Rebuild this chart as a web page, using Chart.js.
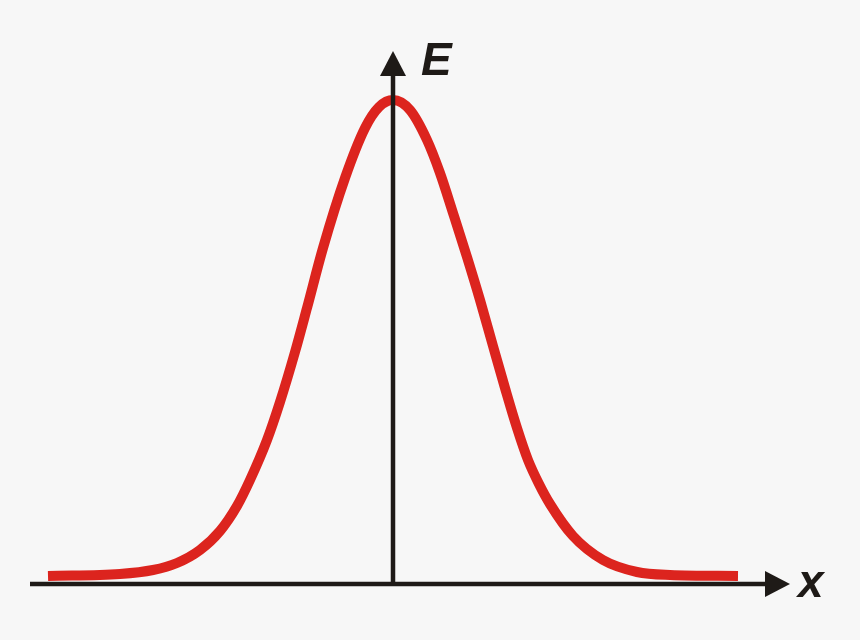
<!DOCTYPE html>
<html>
<head>
<meta charset="utf-8">
<title>E(x)</title>
<script src="https://cdn.jsdelivr.net/npm/chart.js@4/dist/chart.umd.min.js"></script>
<style>
  html, body { margin: 0; padding: 0; background: #f7f7f7; }
  #wrap { width: 860px; height: 640px; }
</style>
</head>
<body>
<div id="wrap"><canvas id="curveChart"></canvas></div>
<script>
// values (x in arbitrary units, E above the x axis)
const xValues = [-3.45, -2.73, -2.40, -2.16, -1.93, -1.73, -1.56, -1.43, -1.26, -1.13, -0.98, -0.86, -0.70, -0.48, -0.28, -0.14, 0,
                 0.17, 0.34, 0.47, 0.60, 0.74, 0.87, 1.00, 1.12, 1.24, 1.35, 1.46, 1.57, 1.80, 2.10, 2.44, 2.77, 3.45];
const eValues = [0.08, 0.10, 0.14, 0.21, 0.34, 0.53, 0.78, 1.04, 1.44, 1.82, 2.32, 2.76, 3.36, 4.06, 4.56, 4.77, 4.84,
                 4.74, 4.44, 4.11, 3.71, 3.27, 2.84, 2.38, 1.96, 1.56, 1.24, 1.00, 0.80, 0.48, 0.24, 0.12, 0.09, 0.08];
const xAxisLabel = 'x';
const yAxisLabel = 'E';

const axisColor = '#1e1a17';

// axes with arrowheads, drawn on top of the curve like in the picture
const arrowAxes = {
    id: 'arrowAxes',
    afterDatasetsDraw(chart) {
        const ctx = chart.ctx;
        const xs = chart.scales.x, ys = chart.scales.y;
        const x0 = xs.getPixelForValue(0);
        const y0 = ys.getPixelForValue(0);
        const left = xs.getPixelForValue(xs.min);
        const right = xs.getPixelForValue(xs.max);
        const top = ys.getPixelForValue(ys.max);
        const head = 25, half = 13;

        ctx.save();
        ctx.strokeStyle = axisColor;
        ctx.fillStyle = axisColor;
        ctx.lineWidth = 4.5;

        ctx.beginPath();
        ctx.moveTo(left, y0);
        ctx.lineTo(right - head + 2, y0);
        ctx.moveTo(x0, y0 + 2);
        ctx.lineTo(x0, top + head - 2);
        ctx.stroke();

        ctx.beginPath();
        ctx.moveTo(right, y0);
        ctx.lineTo(right - head, y0 - half);
        ctx.lineTo(right - head, y0 + half);
        ctx.closePath();
        ctx.fill();

        ctx.beginPath();
        ctx.moveTo(x0, top);
        ctx.lineTo(x0 - half, top + head);
        ctx.lineTo(x0 + half, top + head);
        ctx.closePath();
        ctx.fill();

        ctx.font = 'italic bold 46px "Liberation Sans", Arial, sans-serif';
        ctx.textBaseline = 'alphabetic';
        ctx.textAlign = 'left';
        ctx.fillText(yAxisLabel, x0 + 28, top + 24);
        ctx.fillText(xAxisLabel, right + 8, y0 + 13);
        ctx.restore();
    }
};

new Chart(document.getElementById('curveChart').getContext('2d'), {
    type: 'line',
    data: {
        labels: xValues,
        datasets: [{
            label: 'E',
            data: xValues.map((x, i) => ({ x: x, y: eValues[i] })),
            borderColor: '#dc241e',
            borderWidth: 10,
            borderCapStyle: 'butt',
            cubicInterpolationMode: 'monotone',
            pointRadius: 0,
            fill: false
        }]
    },
    options: {
        responsive: true,
        maintainAspectRatio: false,
        animation: false,
        layout: { padding: { left: 30, right: 70, top: 51, bottom: 56 } },
        plugins: { legend: { display: false }, tooltip: { enabled: false } },
        scales: {
            x: { type: 'linear', min: -3.63, max: 3.97, display: false },
            y: { type: 'linear', min: 0, max: 5.33, display: false }
        }
    },
    plugins: [arrowAxes]
});
</script>
</body>
</html>
